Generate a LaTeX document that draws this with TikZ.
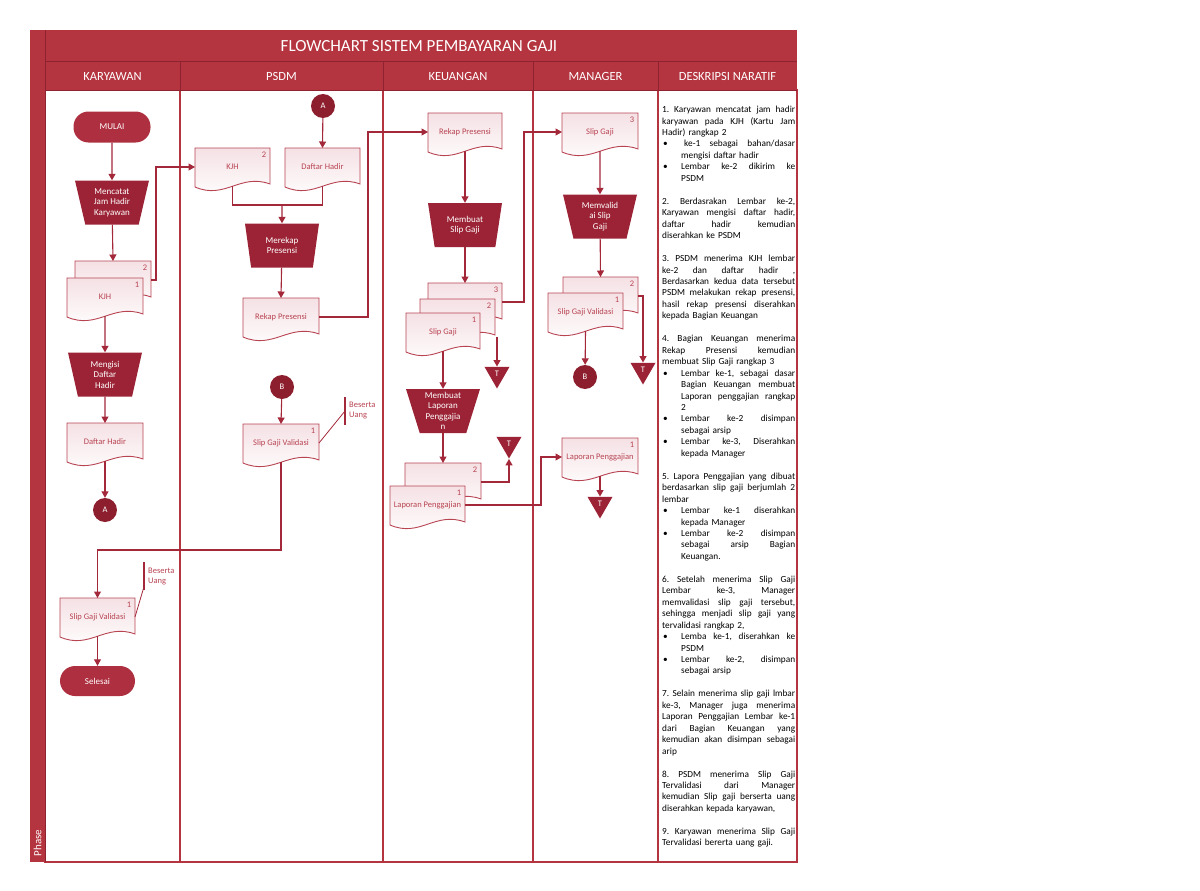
\documentclass[tikz,border=0pt]{standalone}
\usepackage{fontspec}
\setmainfont{Carlito}
\usepackage{tikz}
\usetikzlibrary{shapes.geometric,arrows.meta,calc}

\definecolor{merahHdr}{HTML}{B4343F}
\definecolor{merahGelap}{HTML}{8F2230}
\definecolor{merahGaris}{HTML}{A3283A}
\definecolor{merahProses}{HTML}{9B2335}
\definecolor{merahTerm}{HTML}{AE2F3F}
\definecolor{merahKon}{HTML}{8C1E2D}
\definecolor{merahDok}{HTML}{B84452}
\definecolor{pinkDok}{HTML}{F5E1E5}

\tikzset{
  alur/.style={draw=merahGaris, line width=1.1pt, -{Triangle[length=6.5pt,width=7pt]}},
  garisan/.style={draw=merahGaris, line width=1.1pt},
  terminal/.style={rectangle, rounded corners=15pt, minimum width=77pt, minimum height=31pt,
    fill=merahTerm, text=white, font=\fontsize{9}{11}\selectfont},
  proses/.style={trapezium, trapezium angle=70, trapezium stretches body=true,
    shape border rotate=180, minimum width=74pt, minimum height=44pt, inner sep=0pt,
    fill=merahProses, text=white, align=center, font=\fontsize{9}{10.5}\selectfont},
  konektor/.style={circle, minimum size=24pt, inner sep=0pt, fill=merahKon, text=white,
    font=\fontsize{8.5}{10}\selectfont},
  arsip/.style={regular polygon, regular polygon sides=3, shape border rotate=180,
    minimum size=29pt, inner sep=0pt, fill=merahProses, text=white,
    font=\fontsize{8.5}{10}\selectfont},
  dok/.style={rectangle, minimum height=38pt, inner sep=0pt, outer sep=0pt, text=merahDok,
    font=\fontsize{8.5}{10}\selectfont},
  doknomor/.style={inner sep=0pt, text=merahDok, font=\fontsize{8.5}{10}\selectfont},
  doktepi/.style={draw=merahDok, line width=0.9pt, top color=pinkDok, bottom color=white},
  catatan/.style={anchor=west, align=left, inner xsep=4pt, inner ysep=5pt, text=merahDok,
    font=\fontsize{8.5}{10}\selectfont},
  lajur/.style={text=white, font=\fontsize{12.5}{14}\selectfont},
  narasi/.style={anchor=north west, inner sep=0pt, text width=133pt,
    font=\fontsize{9.3}{11.45}\selectfont\frenchspacing}
}

% 文档符号：名称, x, y, 宽度, 文字, 编号
\newcommand{\dokumen}[6]{%
  \draw[doktepi] (#2,#3) -- ({#2+#4},#3) -- ({#2+#4},{#3+36})
    .. controls ({#2+0.6*#4},{#3+25}) and ({#2+0.4*#4},{#3+52}) .. (#2,{#3+39}) -- cycle;
  \node[dok, minimum width=#4pt] (#1) at ({#2+#4/2},{#3+19}) {#5};
  \node[doknomor] at ([xshift=-6pt,yshift=-7pt]#1.north east) {#6};
}
% 叙述文字的行（两端对齐 / 末行）
\newlength{\lebarNarasi}
\setlength{\lebarNarasi}{133pt}
\newcommand{\spasi}{\spaceskip=0.226em plus 1fil minus 0.06em\relax}
\newcommand{\jl}[1]{\hbox to \lebarNarasi{\spasi #1}}
\newcommand{\ak}[1]{\hbox to \lebarNarasi{#1\hfil}}
\newcommand{\bj}[1]{\hbox to \lebarNarasi{\hbox to 19pt{\hspace{1pt}\textbullet\hfil}\spasi #1}}
\newcommand{\bk}[1]{\hbox to \lebarNarasi{\hspace{19pt}\spasi #1}}
\newcommand{\bka}[1]{\hbox to \lebarNarasi{\hspace{19pt}#1\hfil}}
\newcommand{\jeda}{\vskip 11.5pt}

\begin{document}
\begin{tikzpicture}[x=1pt,y=-1pt]
\useasboundingbox (0,0) rectangle (1200,891);

% 参数
\pgfmathsetmacro{\Atas}{90}
\pgfmathsetmacro{\Bawah}{862}

% 表头与 Phase 栏
\fill[merahHdr] (30,30) rectangle (797,\Atas);
\fill[merahHdr] (30,\Atas) rectangle (45,\Bawah);
\draw[merahHdr, line width=1.2pt] (45,\Atas) rectangle (797,\Bawah);
\foreach \x in {180,383,533,658} \draw[merahHdr, line width=1.2pt] (\x,\Atas) -- (\x,\Bawah);
\foreach \x in {180,383,533,658} \draw[merahGelap, line width=0.7pt] (\x,61) -- (\x,\Atas);
\draw[merahGelap, line width=0.7pt] (45,61) -- (797,61);
\draw[merahGelap, line width=0.7pt] (45,30) -- (45,\Bawah);
\draw[merahGelap, line width=0.7pt] (45,\Atas) -- (797,\Atas);

\node[text=white, font=\fontsize{17}{20}\selectfont] (judul) at (419,46) {FLOWCHART SISTEM PEMBAYARAN GAJI};
\node[lajur] (lKaryawan) at (112.5,76) {KARYAWAN};
\node[lajur] (lPsdm) at (281.5,76) {PSDM};
\node[lajur] (lKeuangan) at (458,76) {KEUANGAN};
\node[lajur] (lManager) at (595.5,76) {MANAGER};
\node[lajur] (lNarasi) at (727.5,76) {DESKRIPSI NARATIF};
\node[rotate=90, text=white, font=\fontsize{11}{13}\selectfont] (fase) at (37.5,843) {Phase};

% 泳道：KARYAWAN
\node[terminal] (mulai) at (112,127) {MULAI};
\node[proses] (mencatat) at (112,202.5) {Mencatat\\Jam Hadir\\Karyawan};
\dokumen{kjhK2}{75}{261}{76}{}{2}
\dokumen{kjhK1}{67}{278}{76}{KJH}{1}
\node[proses] (mengisi) at (105,374.5) {Mengisi\\Daftar\\Hadir};
\dokumen{dhK}{67}{423}{76}{Daftar Hadir}{}
\node[konektor] (konA1) at (105,510) {A};
\dokumen{sgvK}{60}{598}{75}{Slip Gaji Validasi}{1}
\node[catatan] (uangK) at (144,576) {Beserta\\Uang};
\node[terminal, minimum width=75pt, minimum height=30pt] (selesai) at (97.5,681) {Selesai};

% 泳道：PSDM
\node[konektor] (konA2) at (323,106) {A};
\dokumen{kjhP}{195}{148}{75}{KJH}{2}
\dokumen{dhP}{285}{148}{75}{Daftar Hadir}{}
\coordinate (gabung) at (282,205);
\node[proses] (merekap) at (282,245.5) {Merekap\\Presensi};
\dokumen{rekapP}{243}{298}{76}{Rekap Presensi}{}
\node[konektor] (konB1) at (282,387) {B};
\dokumen{sgvP}{243}{424}{76}{Slip Gaji Validasi}{1}
\node[catatan] (uangP) at (345,411) {Beserta\\Uang};

% 泳道：KEUANGAN
\dokumen{rekapK}{428}{113}{74}{Rekap Presensi}{}
\node[proses] (mbSlip) at (465,225) {Membuat\\Slip Gaji};
\dokumen{slip3}{428}{283}{74}{}{3}
\dokumen{slip2}{420}{299}{75}{}{2}
\dokumen{slip1}{406}{313}{74}{Slip Gaji}{1}
\node[arsip] (arsip1) at (497,374) {T};
\node[proses] (mbLap) at (443,411) {Membuat\\Laporan\\Penggajia\\n};
\dokumen{lap2}{405}{463}{76}{}{2}
\dokumen{lap1}{390}{486}{75}{Laporan Penggajian}{1}
\node[arsip] (arsip2) at (509,444) {T};

% 泳道：MANAGER
\dokumen{slipM}{562}{113}{76}{Slip Gaji}{3}
\node[proses] (mvalid) at (600,216.5) {Memvalid\\ai Slip\\Gaji};
\dokumen{sgvM2}{563}{277}{75}{}{2}
\dokumen{sgvM1}{548}{293}{75}{Slip Gaji Validasi}{1}
\node[konektor] (konB2) at (585,377) {B};
\node[arsip] (arsip3) at (643,370) {T};
\dokumen{lapM}{562}{438}{76}{Laporan Penggajian}{1}
\node[arsip] (arsip4) at (600,504) {T};

% 连线
\draw[alur] (mulai) -- (mencatat);
\draw[alur] (mencatat) -- (kjhK2.north);
\draw[alur] (kjhK1.south) -- (mengisi);
\draw[alur] (mengisi) -- (dhK.north);
\draw[alur] (dhK.south) -- (konA1);
\draw[alur] (kjhK2.east) -- ++(5,0) |- (kjhP.west);
\draw[alur] (konA2) -- (dhP.north);
\draw[garisan] (kjhP.south) |- (gabung) -| (dhP.south);
\draw[alur] (gabung) -- (merekap);
\draw[alur] (merekap) -- (rekapP.north);
\draw[alur] (rekapP.east) -- ++(49,0) |- (rekapK.west);
\draw[alur] (rekapK.south) -- (mbSlip);
\draw[alur] (mbSlip) -- (slip3.north);
\draw[alur] (slip3.east) -- ++(22,0) |- (slipM.west);
\draw[alur] (arsip1 |- slip2.south east) -- (arsip1);
\draw[alur] (slip1.south) -- (mbLap);
\draw[alur] (mbLap) -- (lap2.north);
\draw[alur] (lap2.east) -| (arsip2);
\draw[alur] (lap1.east) -- ++(76,0) |- (lapM.west);
\draw[alur] (slipM.south) -- (mvalid);
\draw[alur] (mvalid) -- (sgvM2.north);
\draw[alur] (sgvM1.south) -- (konB2);
\draw[alur] (sgvM2.east) -- ++(5,0) -| (arsip3);
\draw[alur] (lapM.south) -- (arsip4);
\draw[alur] (konB1) -- (sgvP.north);
\draw[alur] (sgvP.south) -- ++(0,88) -| (sgvK.north);
\draw[alur] (sgvK.south) -- (selesai);

% 注释 Beserta Uang
\draw[garisan, line width=0.8pt] (sgvP.east) -- (uangP.west);
\draw[garisan, line width=1.4pt] (uangP.north west) -- (uangP.south west);
\draw[garisan, line width=0.8pt] (sgvK.east) -- ([yshift=3pt]uangK.south west);
\draw[garisan, line width=1.4pt] (uangK.north west) -- (uangK.south west);

% 叙述
\node[narasi] (narasi) at (662,101) {\par
\jl{1. Karyawan mencatat jam hadir}
\jl{karyawan pada KJH (Kartu Jam}
\ak{Hadir) rangkap 2}
\bj{\hspace{3pt}ke-1 sebagai bahan/dasar}
\bka{mengisi daftar hadir}
\bj{Lembar ke-2 dikirim ke}
\bka{PSDM}
\jeda
\jl{2. Berdasrakan Lembar ke-2,}
\jl{Karyawan mengisi daftar hadir,}
\jl{daftar hadir kemudian}
\ak{diserahkan ke PSDM}
\jeda
\jl{3. PSDM menerima KJH lembar}
\jl{ke-2 dan daftar hadir ,}
\jl{Berdasarkan kedua data tersebut}
\jl{PSDM melakukan rekap presensi,}
\jl{hasil rekap presensi diserahkan}
\ak{kepada Bagian Keuangan}
\jeda
\jl{4. Bagian Keuangan menerima}
\jl{Rekap Presensi kemudian}
\ak{membuat Slip Gaji rangkap 3}
\bj{Lembar ke-1, sebagai dasar}
\bk{Bagian Keuangan membuat}
\bk{Laporan penggajian rangkap}
\bka{2}
\bj{Lembar ke-2 disimpan}
\bka{sebagai arsip}
\bj{Lembar ke-3, Diserahkan}
\bka{kepada Manager}
\jeda
\jl{5. Lapora Penggajian yang dibuat}
\jl{berdasarkan slip gaji berjumlah 2}
\ak{lembar}
\bj{Lembar ke-1 diserahkan}
\bka{kepada Manager}
\bj{Lembar ke-2 disimpan}
\bk{sebagai arsip Bagian}
\bka{Keuangan.}
\jeda
\jl{6. Setelah menerima Slip Gaji}
\jl{Lembar ke-3, Manager}
\jl{memvalidasi slip gaji tersebut,}
\jl{sehingga menjadi slip gaji yang}
\ak{tervalidasi rangkap 2,}
\bj{Lemba ke-1, diserahkan ke}
\bka{PSDM}
\bj{Lembar ke-2, disimpan}
\bka{sebagai arsip}
\jeda
\jl{7. Selain menerima slip gaji lmbar}
\jl{ke-3, Manager juga menerima}
\jl{Laporan Penggajian Lembar ke-1}
\jl{dari Bagian Keuangan yang}
\jl{kemudian akan disimpan sebagai}
\ak{arip}
\jeda
\jl{8. PSDM menerima Slip Gaji}
\jl{Tervalidasi dari Manager}
\jl{kemudian Slip gaji berserta uang}
\ak{diserahkan kepada karyawan,}
\jeda
\jl{9. Karyawan menerima Slip Gaji}
\ak{Tervalidasi bererta uang gaji.}
};

\end{tikzpicture}
\end{document}
